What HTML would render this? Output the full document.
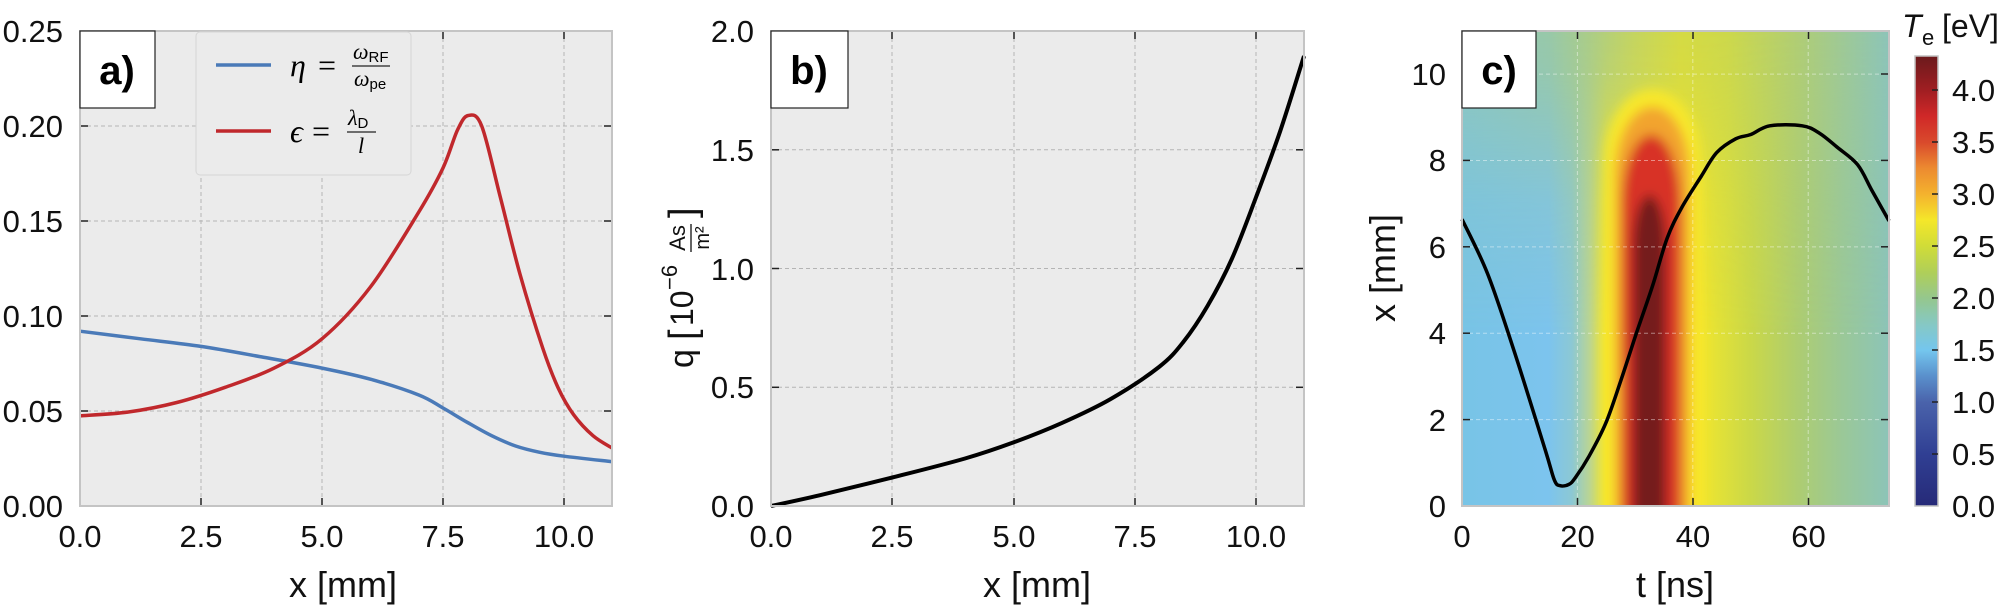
<!DOCTYPE html>
<html><head><meta charset="utf-8"><style>
html,body{margin:0;padding:0;background:#fff;width:1998px;height:614px;overflow:hidden;}
svg{display:block;font-family:"Liberation Sans",sans-serif;}
</style></head><body>
<svg width="1998" height="614" viewBox="0 0 1998 614" xmlns="http://www.w3.org/2000/svg">
<defs>
<linearGradient id="base" x1="0" y1="0" x2="1" y2="0">
<stop offset="0" stop-color="#78c4e6"/><stop offset="0.203" stop-color="#7cc4ee"/><stop offset="0.257" stop-color="#8cc8d4"/><stop offset="0.297" stop-color="#b8d496"/><stop offset="0.324" stop-color="#e0e050"/><stop offset="0.338" stop-color="#f4e62c"/><stop offset="0.554" stop-color="#f6e62a"/><stop offset="0.595" stop-color="#e4e236"/><stop offset="0.676" stop-color="#cad848"/><stop offset="0.784" stop-color="#aecd70"/><stop offset="0.892" stop-color="#9ac898"/><stop offset="1" stop-color="#8cc4b8"/>
</linearGradient>
<linearGradient id="top" x1="0" y1="0" x2="1" y2="0">
<stop offset="0" stop-color="#8ec6bc"/><stop offset="0.203" stop-color="#98c8a8"/><stop offset="0.297" stop-color="#aacc88"/><stop offset="0.405" stop-color="#c4d460"/><stop offset="0.514" stop-color="#d4da44"/><stop offset="0.622" stop-color="#ccd84c"/><stop offset="0.784" stop-color="#b0cd74"/><stop offset="1" stop-color="#8cc4b8"/>
</linearGradient>
<linearGradient id="mg" x1="0" y1="0" x2="0" y2="1">
<stop offset="0" stop-color="#fff" stop-opacity="1"/><stop offset="0.09" stop-color="#fff" stop-opacity="0.9"/><stop offset="0.36" stop-color="#fff" stop-opacity="0.3"/><stop offset="0.64" stop-color="#fff" stop-opacity="0"/>
</linearGradient>
<mask id="topmask" maskContentUnits="userSpaceOnUse"><rect x="0" y="0" width="74" height="11" fill="url(#mg)"/></mask>
<filter id="bl" x="-0.5" y="-0.5" width="2" height="2"><feGaussianBlur stdDeviation="0.9 0.13"/></filter>
<linearGradient id="cb" x1="0" y1="1" x2="0" y2="0">
<stop offset="0" stop-color="#262a78"/><stop offset="0.115" stop-color="#303f93"/><stop offset="0.231" stop-color="#4a63ab"/><stop offset="0.289" stop-color="#5a90cc"/><stop offset="0.346" stop-color="#74c6ee"/><stop offset="0.404" stop-color="#86c8c4"/><stop offset="0.462" stop-color="#95c78d"/><stop offset="0.52" stop-color="#b0cf58"/><stop offset="0.577" stop-color="#d0dc38"/><stop offset="0.635" stop-color="#f4e72a"/><stop offset="0.693" stop-color="#f4b22e"/><stop offset="0.751" stop-color="#ec8a30"/><stop offset="0.808" stop-color="#d94a2c"/><stop offset="0.866" stop-color="#d02828"/><stop offset="0.924" stop-color="#a01e22"/><stop offset="1" stop-color="#6b1a1c"/>
</linearGradient>
</defs>

<!-- ============ Panel a ============ -->
<rect x="80" y="31" width="532" height="475" fill="#ebebeb"/>
<g stroke="#b4b4b4" stroke-width="1" stroke-dasharray="4,3">
<line x1="201" y1="31" x2="201" y2="506"/><line x1="322" y1="31" x2="322" y2="506"/><line x1="443" y1="31" x2="443" y2="506"/><line x1="564" y1="31" x2="564" y2="506"/>
<line x1="80" y1="411" x2="612" y2="411"/><line x1="80" y1="316" x2="612" y2="316"/><line x1="80" y1="221" x2="612" y2="221"/><line x1="80" y1="126" x2="612" y2="126"/>
</g>
<g stroke="#222" stroke-width="1.5">
<line x1="201" y1="506" x2="201" y2="498"/><line x1="322" y1="506" x2="322" y2="498"/><line x1="443" y1="506" x2="443" y2="498"/><line x1="564" y1="506" x2="564" y2="498"/>
<line x1="201" y1="31" x2="201" y2="39"/><line x1="322" y1="31" x2="322" y2="39"/><line x1="443" y1="31" x2="443" y2="39"/><line x1="564" y1="31" x2="564" y2="39"/>
<line x1="80" y1="411" x2="88" y2="411"/><line x1="80" y1="316" x2="88" y2="316"/><line x1="80" y1="221" x2="88" y2="221"/><line x1="80" y1="126" x2="88" y2="126"/>
<line x1="612" y1="411" x2="604" y2="411"/><line x1="612" y1="316" x2="604" y2="316"/><line x1="612" y1="221" x2="604" y2="221"/><line x1="612" y1="126" x2="604" y2="126"/>
</g>
<polyline class="sm" fill="none" stroke="#4a7ab8" stroke-width="3.5" stroke-linejoin="round" points="80,331.2 140.5,338.8 201,346.4 261.5,356.9 322,368.1 370.4,379.2 418.8,395 443,408 467.2,422.3 491.4,435.6 515.6,446 539.8,452.3 564,456.2 612,461.7"/>
<polyline class="sm" fill="none" stroke="#c0282c" stroke-width="3.5" stroke-linejoin="round" points="80,415.8 128.4,412 176.8,402.5 225.2,387.3 273.6,368.3 322,338.8 370.4,287 418.8,212 443,168 457.5,130 468.2,115.5 481.7,126 500.1,196.3 520,274.2 542.7,348 558.2,388 573.7,414.8 593,435.7 612,448"/>
<rect x="80" y="31" width="532" height="475" fill="none" stroke="#c4c4c4" stroke-width="2"/>
<rect x="80" y="31" width="75" height="77" fill="#fff" stroke="#222" stroke-width="1.2"/>
<text x="117" y="84" font-size="40" font-weight="bold" text-anchor="middle">a)</text>
<rect x="196" y="32" width="215" height="143" rx="4" fill="#ebebeb" stroke="#d6d6d6" stroke-width="1"/>
<line x1="216" y1="65" x2="271" y2="65" stroke="#4a7ab8" stroke-width="3.5"/>
<line x1="216" y1="131" x2="271" y2="131" stroke="#c0282c" stroke-width="3.5"/>
<text x="290" y="76" font-size="32" font-family="Liberation Serif,serif" font-style="italic">η</text>
<text x="318" y="76" font-size="32" font-family="Liberation Serif,serif">=</text>
<text x="353" y="59" font-size="22" font-family="Liberation Serif,serif" font-style="italic">ω<tspan font-family="Liberation Sans,sans-serif" font-style="normal" font-size="15" dy="3">RF</tspan></text>
<line x1="352" y1="66" x2="390" y2="66" stroke="#222" stroke-width="1.3"/>
<text x="354" y="86" font-size="22" font-family="Liberation Serif,serif" font-style="italic">ω<tspan font-family="Liberation Sans,sans-serif" font-style="normal" font-size="15" dy="3">pe</tspan></text>
<text x="290" y="142" font-size="32" font-family="Liberation Serif,serif" font-style="italic">ϵ</text>
<text x="312" y="142" font-size="32" font-family="Liberation Serif,serif">=</text>
<text x="348" y="125" font-size="22" font-family="Liberation Serif,serif" font-style="italic">λ<tspan font-family="Liberation Sans,sans-serif" font-style="normal" font-size="15" dy="3">D</tspan></text>
<line x1="347" y1="132" x2="376" y2="132" stroke="#222" stroke-width="1.3"/>
<text x="358" y="153" font-size="22" font-family="Liberation Serif,serif" font-style="italic">l</text>
<g font-size="31" text-anchor="end" fill="#111">
<text x="63" y="517">0.00</text><text x="63" y="422">0.05</text><text x="63" y="327">0.10</text><text x="63" y="232">0.15</text><text x="63" y="137">0.20</text><text x="63" y="42">0.25</text>
</g>
<g font-size="31" text-anchor="middle" fill="#111">
<text x="80" y="547">0.0</text><text x="201" y="547">2.5</text><text x="322" y="547">5.0</text><text x="443" y="547">7.5</text><text x="564" y="547">10.0</text>
<text x="343" y="597" font-size="36">x [mm]</text>
</g>

<!-- ============ Panel b ============ -->
<rect x="771" y="31" width="533" height="475" fill="#ebebeb"/>
<g stroke="#b4b4b4" stroke-width="1" stroke-dasharray="4,3">
<line x1="892" y1="31" x2="892" y2="506"/><line x1="1014" y1="31" x2="1014" y2="506"/><line x1="1135" y1="31" x2="1135" y2="506"/><line x1="1256" y1="31" x2="1256" y2="506"/>
<line x1="771" y1="387.3" x2="1304" y2="387.3"/><line x1="771" y1="268.5" x2="1304" y2="268.5"/><line x1="771" y1="149.8" x2="1304" y2="149.8"/>
</g>
<g stroke="#222" stroke-width="1.5">
<line x1="892" y1="506" x2="892" y2="498"/><line x1="1014" y1="506" x2="1014" y2="498"/><line x1="1135" y1="506" x2="1135" y2="498"/><line x1="1256" y1="506" x2="1256" y2="498"/>
<line x1="892" y1="31" x2="892" y2="39"/><line x1="1014" y1="31" x2="1014" y2="39"/><line x1="1135" y1="31" x2="1135" y2="39"/><line x1="1256" y1="31" x2="1256" y2="39"/>
<line x1="771" y1="387.3" x2="779" y2="387.3"/><line x1="771" y1="268.5" x2="779" y2="268.5"/><line x1="771" y1="149.8" x2="779" y2="149.8"/>
<line x1="1304" y1="387.3" x2="1296" y2="387.3"/><line x1="1304" y1="268.5" x2="1296" y2="268.5"/><line x1="1304" y1="149.8" x2="1296" y2="149.8"/>
</g>
<polyline class="sm" fill="none" stroke="#000" stroke-width="4" stroke-linejoin="round" points="771,506 819.5,495.3 892.3,477.5 965,458.5 1013.5,442.4 1062,422.9 1110.5,399.1 1159,367 1183.3,342 1207.5,306 1231.8,259 1256,197.3 1280.3,130.8 1304,56"/>
<rect x="771" y="31" width="533" height="475" fill="none" stroke="#c4c4c4" stroke-width="2"/>
<rect x="771" y="31" width="77" height="77" fill="#fff" stroke="#222" stroke-width="1.2"/>
<text x="809" y="84" font-size="40" font-weight="bold" text-anchor="middle">b)</text>
<g font-size="31" text-anchor="end" fill="#111">
<text x="754" y="517">0.0</text><text x="754" y="398">0.5</text><text x="754" y="280">1.0</text><text x="754" y="161">1.5</text><text x="754" y="42">2.0</text>
</g>
<g font-size="31" text-anchor="middle" fill="#111">
<text x="771" y="547">0.0</text><text x="892" y="547">2.5</text><text x="1014" y="547">5.0</text><text x="1135" y="547">7.5</text><text x="1256" y="547">10.0</text>
<text x="1037" y="597" font-size="36">x [mm]</text>
</g>
<g transform="translate(693,274) rotate(-90)" fill="#111">
<text x="-94" y="0" font-size="34">q</text>
<text x="-66" y="2" font-size="38">[</text>
<text x="-52" y="0" font-size="32">10</text>
<text x="-16" y="-16" font-size="22">−6</text>
<text x="36" y="-8" font-size="22" text-anchor="middle">As</text>
<line x1="22" y1="-2" x2="50" y2="-2" stroke="#111" stroke-width="1.3"/>
<text x="36" y="16" font-size="20" text-anchor="middle">m²</text>
<text x="56" y="2" font-size="38">]</text>
</g>

<!-- ============ Panel c ============ -->
<svg x="1462" y="31" width="427" height="475" viewBox="0 0 74 11" preserveAspectRatio="none" overflow="hidden">
<rect x="0" y="0" width="74" height="11" fill="url(#base)"/>
<rect x="0" y="0" width="74" height="11" fill="url(#top)" mask="url(#topmask)"/>
<g filter="url(#bl)">
<rect x="24.8" y="1.35" width="16.4" height="12" rx="8.2" ry="1.6" fill="#f8e82a"/>
<rect x="26.5" y="1.75" width="13" height="12" rx="6.5" ry="1.6" fill="#f2a42e"/>
<rect x="27.8" y="2.4" width="10" height="12" rx="5" ry="1.6" fill="#d83028"/>
<rect x="29.7" y="3.8" width="5.6" height="12" rx="2.8" ry="1.2" fill="#741b1d"/>
</g>
<g stroke="#ffffff" stroke-opacity="0.45" stroke-width="1" stroke-dasharray="4,3">
<line x1="20" y1="0" x2="20" y2="11" vector-effect="non-scaling-stroke"/><line x1="40" y1="0" x2="40" y2="11" vector-effect="non-scaling-stroke"/><line x1="60" y1="0" x2="60" y2="11" vector-effect="non-scaling-stroke"/>
<line x1="0" y1="9" x2="74" y2="9" vector-effect="non-scaling-stroke"/><line x1="0" y1="7" x2="74" y2="7" vector-effect="non-scaling-stroke"/><line x1="0" y1="5" x2="74" y2="5" vector-effect="non-scaling-stroke"/><line x1="0" y1="3" x2="74" y2="3" vector-effect="non-scaling-stroke"/><line x1="0" y1="1" x2="74" y2="1" vector-effect="non-scaling-stroke"/>
</g>
</svg>
<polyline class="sm" fill="none" stroke="#000" stroke-width="3.5" stroke-linejoin="round" points="1462,219.2 1487.7,274 1514.5,352.2 1545.2,449.8 1554.4,480.1 1560.2,485.7 1568.8,484.4 1575.2,477.9 1589,456.3 1605.8,423.1 1620.8,380.7 1636.4,333.2 1652.6,285.7 1667,238.6 1681.5,208 1701.1,176.5 1716.7,152.6 1735.7,138.8 1750.8,134.5 1769.8,125.8 1802.2,125.8 1819.5,133.2 1837.4,147.4 1857.6,164.7 1872,190.6 1889,220.9"/>
<g stroke="#222" stroke-width="1.5">
<line x1="1577.5" y1="506" x2="1577.5" y2="498"/><line x1="1693" y1="506" x2="1693" y2="498"/><line x1="1808.5" y1="506" x2="1808.5" y2="498"/>
<line x1="1577.5" y1="31" x2="1577.5" y2="39"/><line x1="1693" y1="31" x2="1693" y2="39"/><line x1="1808.5" y1="31" x2="1808.5" y2="39"/>
<line x1="1462" y1="419.6" x2="1470" y2="419.6"/><line x1="1462" y1="333.2" x2="1470" y2="333.2"/><line x1="1462" y1="246.8" x2="1470" y2="246.8"/><line x1="1462" y1="160.4" x2="1470" y2="160.4"/><line x1="1462" y1="74" x2="1470" y2="74"/>
<line x1="1889" y1="419.6" x2="1881" y2="419.6"/><line x1="1889" y1="333.2" x2="1881" y2="333.2"/><line x1="1889" y1="246.8" x2="1881" y2="246.8"/><line x1="1889" y1="160.4" x2="1881" y2="160.4"/><line x1="1889" y1="74" x2="1881" y2="74"/>
</g>
<rect x="1462" y="31" width="427" height="475" fill="none" stroke="#c4c4c4" stroke-width="2"/>
<rect x="1462" y="31" width="74" height="77" fill="#fff" stroke="#222" stroke-width="1.2"/>
<text x="1499" y="84" font-size="40" font-weight="bold" text-anchor="middle">c)</text>
<g font-size="31" text-anchor="end" fill="#111">
<text x="1446" y="517">0</text><text x="1446" y="431">2</text><text x="1446" y="344">4</text><text x="1446" y="258">6</text><text x="1446" y="171">8</text><text x="1446" y="85">10</text>
</g>
<g font-size="31" text-anchor="middle" fill="#111">
<text x="1462" y="547">0</text><text x="1577.5" y="547">20</text><text x="1693" y="547">40</text><text x="1808.5" y="547">60</text>
<text x="1675" y="597" font-size="36">t [ns]</text>
</g>
<text transform="translate(1395,268) rotate(-90)" font-size="36" text-anchor="middle" fill="#111">x [mm]</text>

<!-- colorbar -->
<rect x="1915" y="56" width="23" height="450" fill="url(#cb)" stroke="#c4c4c4" stroke-width="1.5"/>
<g stroke="#222" stroke-width="1.5">
<line x1="1938" y1="454" x2="1932" y2="454"/><line x1="1938" y1="402" x2="1932" y2="402"/><line x1="1938" y1="350" x2="1932" y2="350"/><line x1="1938" y1="298" x2="1932" y2="298"/><line x1="1938" y1="246" x2="1932" y2="246"/><line x1="1938" y1="194" x2="1932" y2="194"/><line x1="1938" y1="142" x2="1932" y2="142"/><line x1="1938" y1="90" x2="1932" y2="90"/>
</g>
<g font-size="31" fill="#111">
<text x="1952" y="517">0.0</text><text x="1952" y="465">0.5</text><text x="1952" y="413">1.0</text><text x="1952" y="361">1.5</text><text x="1952" y="309">2.0</text><text x="1952" y="257">2.5</text><text x="1952" y="205">3.0</text><text x="1952" y="153">3.5</text><text x="1952" y="101">4.0</text>
</g>
<text x="1902" y="37" font-size="32" font-style="italic" fill="#111">T</text>
<text x="1922" y="45" font-size="22" fill="#111">e</text>
<text x="1942" y="37" font-size="32" fill="#111">[eV]</text>
</svg>
<script>
document.querySelectorAll('polyline.sm').forEach(function(pl){
  var a=pl.getAttribute('points').trim().split(/\s+/).map(function(s){var p=s.split(',');return [+p[0],+p[1]];});
  var d='M'+a[0][0]+','+a[0][1];
  for(var i=0;i<a.length-1;i++){
    var p0=a[i-1]||a[i],p1=a[i],p2=a[i+1],p3=a[i+2]||a[i+1];
    var c1=[p1[0]+(p2[0]-p0[0])/6,p1[1]+(p2[1]-p0[1])/6];
    var c2=[p2[0]-(p3[0]-p1[0])/6,p2[1]-(p3[1]-p1[1])/6];
    d+=' C'+c1[0].toFixed(2)+','+c1[1].toFixed(2)+' '+c2[0].toFixed(2)+','+c2[1].toFixed(2)+' '+p2[0]+','+p2[1];
  }
  var path=document.createElementNS('http://www.w3.org/2000/svg','path');
  ['fill','stroke','stroke-width','stroke-linejoin'].forEach(function(k){path.setAttribute(k,pl.getAttribute(k));});
  path.setAttribute('d',d);
  pl.parentNode.replaceChild(path,pl);
});
</script>
</body></html>
